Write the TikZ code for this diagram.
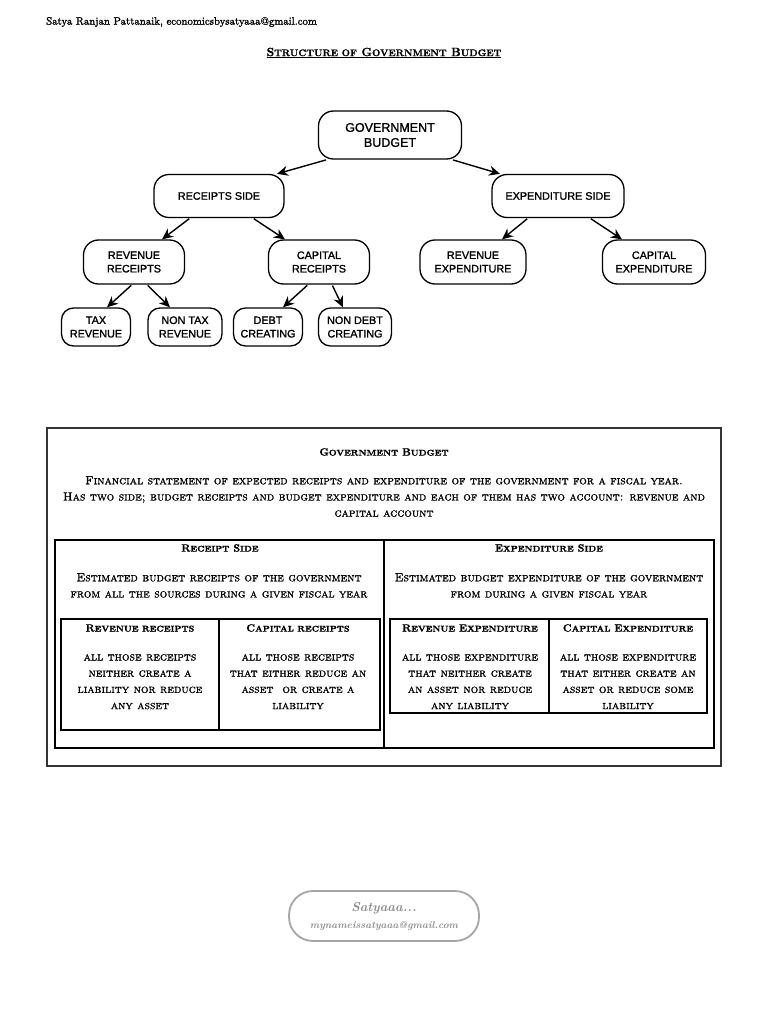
\documentclass[tikz,border=0pt]{standalone}
\usepackage{fontspec}
\newfontfamily\arialf[RawFeature={embolden=1.3}]{Liberation Sans}
\newfontfamily\capsf[RawFeature={embolden=1.2}]{Latin Modern Roman Caps}
\newfontfamily\romf[RawFeature={embolden=1.5}]{Latin Modern Roman}
\newfontfamily\romb[RawFeature={embolden=1.2}]{Latin Modern Roman}
\usetikzlibrary{arrows.meta}
\makeatletter
\newcommand\scs[1]{{\fontsize{\strip@pt\dimexpr0.8\dimexpr\f@size pt\relax\relax}{0}\selectfont #1}}
\makeatother
\newcommand\fsb[2]{\fontsize{#1}{#2}\selectfont}
\tikzset{
  tnode/.style={draw, line width=1.3pt, rounded corners=15pt, align=center, inner sep=0pt, font=\arialf\fsb{10.8}{13.5}},
  arr/.style={line width=1.4pt, -{Stealth[length=11pt,width=10pt]}, shorten <=1pt},
  hd/.style={font=\romb\bfseries\fsb{10.5}{12}, inner sep=0pt},
  body/.style={font=\capsf\fsb{11.9}{16.2}, align=center, inner sep=0pt},
  tbl/.style={line width=1.8pt},
}
\begin{document}
\begin{tikzpicture}[x=1pt,y=-1pt]
\useasboundingbox (0,0) rectangle (768,1024);
\fill[white] (0,0) rectangle (768,1024);
% header
\node[anchor=west, font=\romf\fsb{10.8}{12}, inner sep=0pt] (auth) at (46,22) {Satya Ranjan Pattanaik, economicsbysatyaaa@gmail.com};
\node[font=\romb\bfseries\fsb{12}{14}, inner sep=0pt] (title) at (384,53) {\underline{S\scs{TRUCTURE OF} G\scs{OVERNMENT} B\scs{UDGET}}};
% tree
\node[tnode, minimum width=143pt, minimum height=48pt, font=\arialf\fsb{12.5}{15}] (gb) at (390,135) {GOVERNMENT\\BUDGET};
\node[tnode, minimum width=130pt, minimum height=43pt] (rs) at (219,196) {RECEIPTS SIDE};
\node[tnode, minimum width=132pt, minimum height=43pt] (es) at (558,196) {EXPENDITURE SIDE};
\node[tnode, minimum width=101pt, minimum height=44pt] (rr) at (134,262) {REVENUE\\RECEIPTS};
\node[tnode, minimum width=101pt, minimum height=44pt] (cr) at (319,262) {CAPITAL\\RECEIPTS};
\node[tnode, minimum width=106pt, minimum height=44pt] (re) at (473,262) {REVENUE\\EXPENDITURE};
\node[tnode, minimum width=103pt, minimum height=44pt] (ce) at (654,262) {CAPITAL\\EXPENDITURE};
\node[tnode, minimum width=69pt, minimum height=38pt, rounded corners=12pt] (tr) at (96,327) {TAX\\REVENUE};
\node[tnode, minimum width=74pt, minimum height=38pt, rounded corners=12pt] (nt) at (185,327) {NON TAX\\REVENUE};
\node[tnode, minimum width=69pt, minimum height=38pt, rounded corners=12pt] (dc) at (268,327) {DEBT\\CREATING};
\node[tnode, minimum width=73pt, minimum height=38pt, rounded corners=12pt] (nd) at (355,327) {NON DEBT\\CREATING};
\draw[arr] ([xshift=-63pt]gb.south) -- ([xshift=58pt]rs.north);
\draw[arr] ([xshift=62pt]gb.south) -- ([xshift=-58pt]es.north);
\draw[arr] ([xshift=-29pt]rs.south) -- ([xshift=28pt]rr.north);
\draw[arr] ([xshift=34pt]rs.south) -- ([xshift=-34pt]cr.north);
\draw[arr] ([xshift=-30pt]es.south) -- ([xshift=29pt]re.north);
\draw[arr] ([xshift=32pt]es.south) -- ([xshift=-32pt]ce.north);
\draw[arr] ([xshift=-2pt]rr.south) -- ([xshift=11pt]tr.north);
\draw[arr] ([xshift=13pt]rr.south) -- ([xshift=-15pt]nt.north);
\draw[arr] ([xshift=-11pt]cr.south) -- ([xshift=15pt]dc.north);
\draw[arr] ([xshift=13pt]cr.south) -- ([xshift=-12pt]nd.north);
% table
\draw[line width=1.2pt, draw=black!80] (47,428) rectangle (721,766);
\draw[line width=1.4pt] (55,540) rectangle (714,748);
\draw[line width=1.4pt] (384,540) -- (384,748);
\draw[tbl] (61,619) rectangle (380,730);
\draw[tbl] (219,619) -- (219,730);
\draw[tbl] (390,619) rectangle (707,713);
\draw[tbl] (549,619) -- (549,713);
\node[hd] (gbh) at (384,452) {G\scs{OVERNMENT} B\scs{UDGET}};
\node[body, anchor=north] (gbt) at (384,476) {Financial statement of expected receipts and expenditure of the government for a fiscal year.\\
Has two side; budget receipts and budget expenditure and each of them has two account: revenue and\\capital account};
\node[hd] (rsh) at (220,548) {R\scs{ECEIPT} S\scs{IDE}};
\node[body, anchor=north] (rst) at (219,573) {Estimated budget receipts of the government\\from all the sources during a given fiscal year};
\node[hd] (esh) at (549,548) {E\scs{XPENDITURE} S\scs{IDE}};
\node[body, anchor=north] (est) at (549,573) {Estimated budget expenditure of the government\\from during a given fiscal year};
\node[hd] (rrh) at (140,628) {R\scs{EVENUE RECEIPTS}};
\node[hd] (crh) at (298,628) {C\scs{APITAL RECEIPTS}};
\node[hd] (reh) at (470,628) {R\scs{EVENUE} E\scs{XPENDITURE}};
\node[hd] (ceh) at (628,628) {C\scs{APITAL} E\scs{XPENDITURE}};
\node[body, anchor=north] (rrt) at (140,654) {all those receipts\\neither create a\\liability nor reduce\\any asset};
\node[body, anchor=north] (crt) at (298,654) {all those receipts\\that either reduce an\\asset~ or create a\\liability};
\node[body, anchor=north] (ret) at (470,654) {all those expenditure\\that neither create\\an asset nor reduce\\any liability};
\node[body, anchor=north] (cet) at (628,654) {all those expenditure\\that either create an\\asset or reduce some\\liability};
% watermark
\node[draw=black!35, line width=1.8pt, rounded corners=24pt, minimum width=190pt, minimum height=50pt] (wm) at (384,916) {};
\node[text=black!45, font=\bfseries\itshape\fsb{13}{14}, inner sep=0pt] (wm1) at (384,908) {Satyaaa...};
\node[text=black!45, font=\bfseries\itshape\fsb{10}{12}, inner sep=0pt] (wm2) at (384,926) {mynameissatyaaa@gmail.com};
\end{tikzpicture}
\end{document}
